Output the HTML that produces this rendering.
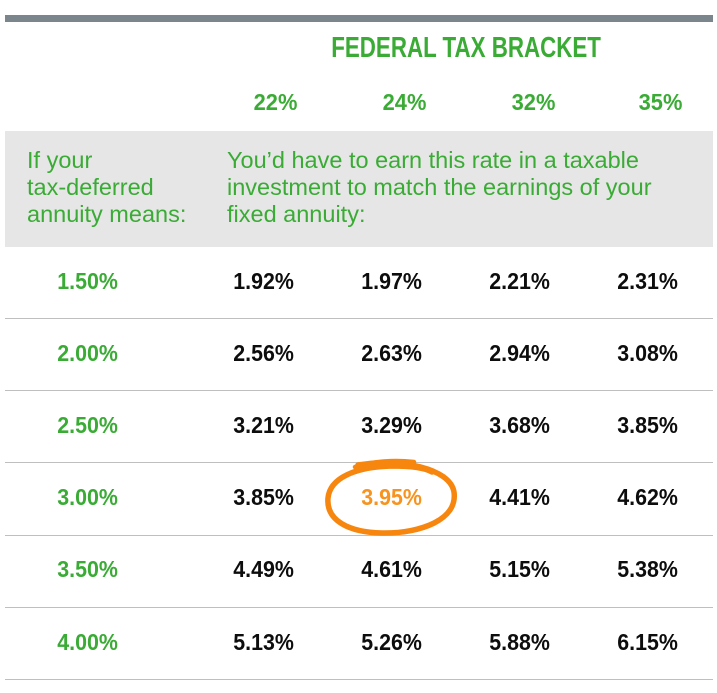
<!DOCTYPE html>
<html>
<head>
<meta charset="utf-8">
<style>
html,body{margin:0;padding:0;background:#fff;}
body{width:717px;height:693px;position:relative;overflow:hidden;font-family:"Liberation Sans",Arial,sans-serif;}
.abs{position:absolute;}
.bar{left:5px;top:15px;width:708px;height:7px;background:#7b858c;}
.gbox{left:5px;top:131px;width:708px;height:116px;background:#e5e6e5;}
.line{left:5px;width:708px;height:1px;background:#bfbfbf;}
.c{position:absolute;width:160px;text-align:center;white-space:nowrap;}
.c span{display:inline-block;transform:scaleX(0.93);transform-origin:center;}
.g{color:#3aab35;}
.k{color:#0d0d0d;}
.num{font-size:23px;line-height:23px;font-weight:bold;}
.hdr{font-size:23.5px;line-height:23.5px;font-weight:bold;}
.title{font-size:29px;line-height:29px;font-weight:bold;color:#3aab35;}
.title span{transform:scaleX(0.77);}
.txt{font-size:23.5px;line-height:27px;color:#3aab35;white-space:nowrap;}
</style>
</head>
<body>
<div class="abs bar"></div>

<div class="c title" style="left:266px;width:400px;top:33.5px;"><span>FEDERAL TAX BRACKET</span></div>

<div class="c hdr g" style="left:196px;top:90.6px;"><span>22%</span></div>
<div class="c hdr g" style="left:324.5px;top:90.6px;"><span>24%</span></div>
<div class="c hdr g" style="left:453.5px;top:90.6px;"><span>32%</span></div>
<div class="c hdr g" style="left:581px;top:90.6px;"><span>35%</span></div>

<div class="abs gbox"></div>
<div class="abs txt" style="left:27px;top:147.4px;">If your<br>tax-deferred<br>annuity means:</div>
<div class="abs txt" style="left:227px;top:147.4px;">You’d have to earn this rate in a taxable<br>investment to match the earnings of your<br>fixed annuity:</div>

<div class="abs line" style="top:318px;"></div>
<div class="abs line" style="top:390px;"></div>
<div class="abs line" style="top:462px;"></div>
<div class="abs line" style="top:535px;"></div>
<div class="abs line" style="top:607px;"></div>
<div class="abs line" style="top:679px;"></div>

<!-- row 1 -->
<div class="c num g" style="left:8px;top:269.5px;"><span>1.50%</span></div>
<div class="c num k" style="left:183.5px;top:269.5px;"><span>1.92%</span></div>
<div class="c num k" style="left:312px;top:269.5px;"><span>1.97%</span></div>
<div class="c num k" style="left:440px;top:269.5px;"><span>2.21%</span></div>
<div class="c num k" style="left:568px;top:269.5px;"><span>2.31%</span></div>
<!-- row 2 -->
<div class="c num g" style="left:8px;top:341.7px;"><span>2.00%</span></div>
<div class="c num k" style="left:183.5px;top:341.7px;"><span>2.56%</span></div>
<div class="c num k" style="left:312px;top:341.7px;"><span>2.63%</span></div>
<div class="c num k" style="left:440px;top:341.7px;"><span>2.94%</span></div>
<div class="c num k" style="left:568px;top:341.7px;"><span>3.08%</span></div>
<!-- row 3 -->
<div class="c num g" style="left:8px;top:413.9px;"><span>2.50%</span></div>
<div class="c num k" style="left:183.5px;top:413.9px;"><span>3.21%</span></div>
<div class="c num k" style="left:312px;top:413.9px;"><span>3.29%</span></div>
<div class="c num k" style="left:440px;top:413.9px;"><span>3.68%</span></div>
<div class="c num k" style="left:568px;top:413.9px;"><span>3.85%</span></div>
<!-- row 4 -->
<div class="c num g" style="left:8px;top:486.1px;"><span>3.00%</span></div>
<div class="c num k" style="left:183.5px;top:486.1px;"><span>3.85%</span></div>
<div class="c num" style="left:312px;top:486.1px;color:#f7931e;"><span>3.95%</span></div>
<div class="c num k" style="left:440px;top:486.1px;"><span>4.41%</span></div>
<div class="c num k" style="left:568px;top:486.1px;"><span>4.62%</span></div>
<!-- row 5 -->
<div class="c num g" style="left:8px;top:558.3px;"><span>3.50%</span></div>
<div class="c num k" style="left:183.5px;top:558.3px;"><span>4.49%</span></div>
<div class="c num k" style="left:312px;top:558.3px;"><span>4.61%</span></div>
<div class="c num k" style="left:440px;top:558.3px;"><span>5.15%</span></div>
<div class="c num k" style="left:568px;top:558.3px;"><span>5.38%</span></div>
<!-- row 6 -->
<div class="c num g" style="left:8px;top:630.5px;"><span>4.00%</span></div>
<div class="c num k" style="left:183.5px;top:630.5px;"><span>5.13%</span></div>
<div class="c num k" style="left:312px;top:630.5px;"><span>5.26%</span></div>
<div class="c num k" style="left:440px;top:630.5px;"><span>5.88%</span></div>
<div class="c num k" style="left:568px;top:630.5px;"><span>6.15%</span></div>

<svg class="abs" style="left:0;top:0;" width="717" height="693" viewBox="0 0 717 693">
  <path d="M358 465 C 400 458, 450 468, 454 492 C 458 520, 420 533, 385 533 C 348 533, 326 520, 328 498 C 330 478, 355 467, 392 466 C 410 466, 425 468, 432 472"
        fill="none" stroke="#f7860f" stroke-width="5.5" stroke-linecap="round"/>
  <path d="M355 467 C 372 461, 395 460, 414 462" fill="none" stroke="#f7860f" stroke-width="4.5" stroke-linecap="round"/>
</svg>
</body>
</html>
